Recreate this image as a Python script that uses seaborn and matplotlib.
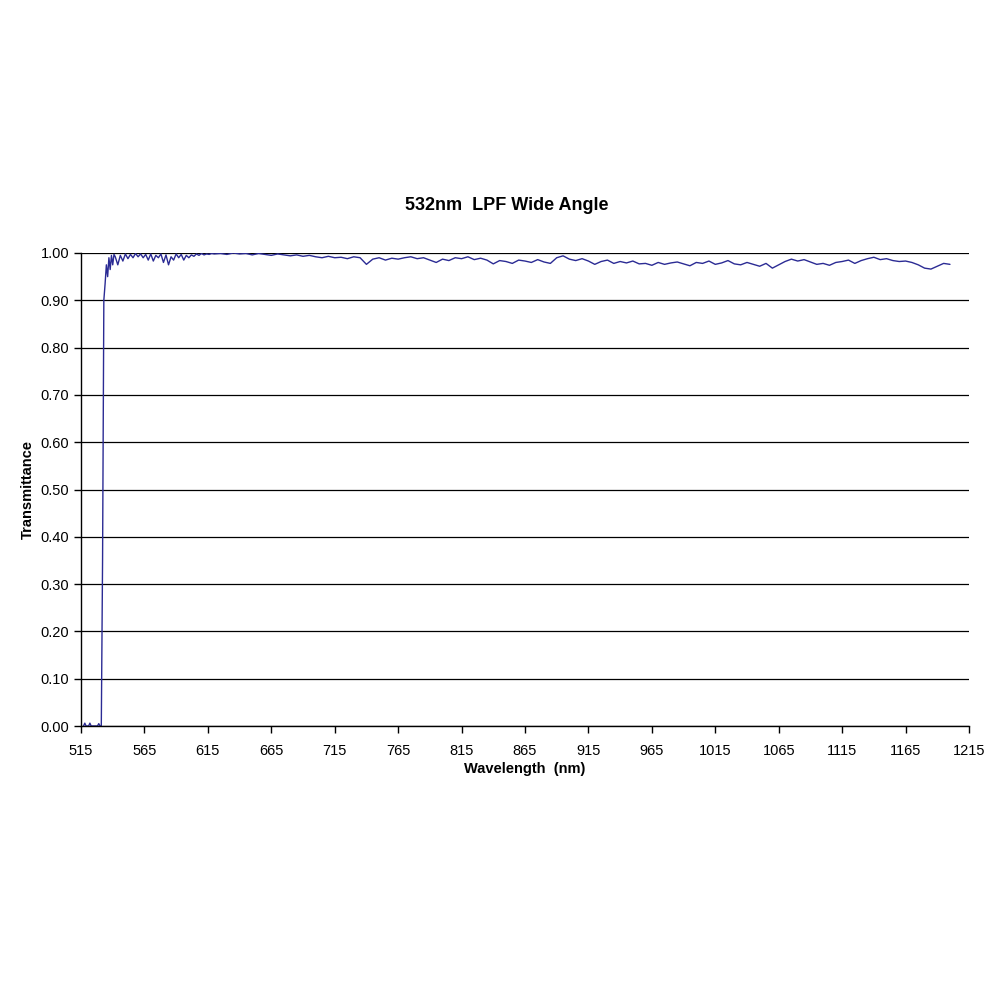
import numpy as np
import pandas as pd
import matplotlib
matplotlib.use("Agg")
import matplotlib.pyplot as plt
import seaborn as sns

# Data
wl_edge = np.arange(517, 542, 1)
t_edge = [0.0, 0.006, 0.0, 0.0, 0.0, 0.006, 0.0, 0.0, 0.0, 0.0,
          0.0, 0.0, 0.005, 0.0, 0.0, 0.35, 0.90, 0.935, 0.975, 0.95,
          0.99, 0.965, 0.995, 0.975, 0.997]

wl_a = np.arange(542, 620, 2)
t_a = [0.992, 0.975, 0.995, 0.983, 0.998, 0.988, 0.997,
       0.99, 0.999, 0.992, 0.998, 0.99, 0.997, 0.985, 0.998, 0.983, 0.995,
       0.99, 0.998, 0.98, 0.996, 0.975, 0.992, 0.985, 0.998, 0.99, 0.997,
       0.985, 0.995, 0.99, 0.996, 0.993, 0.998, 0.995, 0.999, 0.996, 0.998,
       0.997, 0.999]

wl_b = np.arange(620, 1201, 5)
t_b = [0.998, 0.999, 0.997, 1.0, 0.998, 0.999, 0.996, 0.999, 0.997, 0.995,
       0.998, 0.996, 0.994, 0.996, 0.993, 0.995, 0.992, 0.99, 0.993, 0.99,
       0.991, 0.988, 0.992, 0.99, 0.976, 0.987, 0.99, 0.985, 0.989, 0.987,
       0.99, 0.992, 0.988, 0.99, 0.985, 0.98, 0.987, 0.984, 0.99, 0.988,
       0.992, 0.986, 0.989, 0.985, 0.977, 0.984, 0.982, 0.978, 0.985, 0.983,
       0.98, 0.986, 0.981, 0.978, 0.99, 0.994, 0.987, 0.984, 0.988, 0.983,
       0.976, 0.982, 0.985, 0.978, 0.982, 0.979, 0.983, 0.977, 0.978, 0.974,
       0.98, 0.976, 0.979, 0.981, 0.977, 0.973, 0.98, 0.978, 0.983, 0.976,
       0.979, 0.984, 0.977, 0.975, 0.98, 0.976, 0.972, 0.978, 0.968, 0.975,
       0.982, 0.987, 0.983, 0.986, 0.981, 0.976, 0.978, 0.974, 0.98, 0.982,
       0.985, 0.978, 0.984, 0.988, 0.991, 0.986, 0.988, 0.984, 0.982, 0.983,
       0.98, 0.975, 0.968, 0.966, 0.972, 0.978, 0.976]

x_ticks = np.arange(515, 1216, 50)
y_ticks = np.arange(0, 1.01, 0.1)

df = pd.DataFrame({
    "Wavelength": np.concatenate([wl_edge, wl_a, wl_b]),
    "Transmittance": np.concatenate([t_edge, t_a, t_b]),
})

sns.set_style("white")
plt.rcParams['font.family'] = ['Liberation Sans', 'DejaVu Sans']
plt.rcParams['text.color'] = 'black'

fig = plt.figure(figsize=(10, 10), dpi=100)
ax = fig.add_axes([0.081, 0.274, 0.888, 0.473])

sns.lineplot(data=df, x="Wavelength", y="Transmittance", ax=ax,
             color="#2b2b94", linewidth=1)

ax.set_xlim(515, 1215)
ax.set_ylim(0, 1.0)
ax.set_xticks(x_ticks)
ax.set_yticks(y_ticks)
ax.set_yticklabels([f"{v:.2f}" for v in y_ticks])
ax.tick_params(axis="both", direction="out", length=5, width=1,
               colors="black", labelsize=10.5, bottom=True, left=True)
ax.tick_params(axis="x", pad=8)
ax.yaxis.grid(True, color="black", linewidth=0.9)
ax.xaxis.grid(False)
for s in ["top", "right"]:
    ax.spines[s].set_visible(False)
for s in ["left", "bottom"]:
    ax.spines[s].set_color("black")
    ax.spines[s].set_linewidth(1)

ax.set_xlabel("Wavelength  (nm)", fontsize=10.5, fontweight="bold",
              labelpad=3, color="black")
ax.set_ylabel("Transmittance", fontsize=10.5, fontweight="bold",
              labelpad=4, color="black")
fig.text(0.507, 0.795, "532nm  LPF Wide Angle", ha="center", va="center",
         fontsize=13, fontweight="bold", color="black")

fig.savefig("out.png", dpi=100, facecolor="white")
